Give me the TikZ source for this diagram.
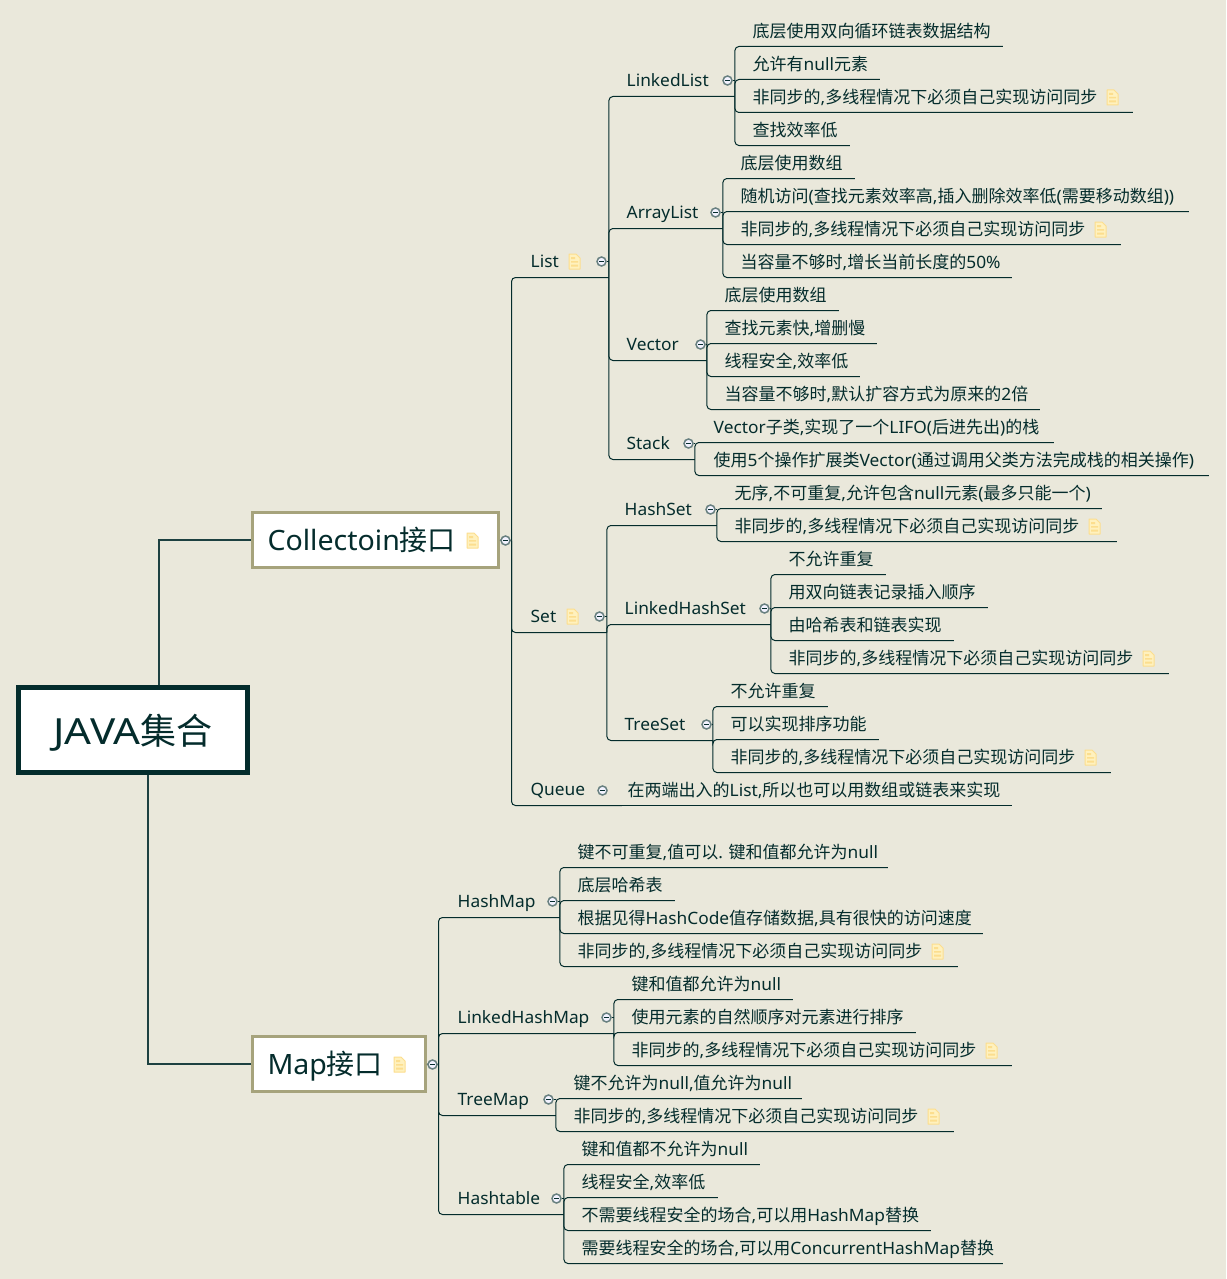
\documentclass[tikz,border=0pt]{standalone}
\usepackage{fontspec}
\setmainfont[FakeStretch=1.02]{Noto Sans}
\newfontfamily\cjk{Noto Sans CJK SC}
% han characters switch to the cjk font by themselves
\XeTeXinterchartokenstate=1
\chardef\hanclass=7
\count255="3000
\loop\ifnum\count255<"A000
  \XeTeXcharclass\count255=\hanclass
  \advance\count255 by 1
\repeat
\XeTeXinterchartoks 0 \hanclass={\cjk}
\XeTeXinterchartoks 4095 \hanclass={\cjk}
\XeTeXinterchartoks \hanclass 0={\normalfont}
\XeTeXinterchartoks \hanclass 4095={\normalfont}
\definecolor{canvas}{HTML}{EAE8DB}
\definecolor{ink}{HTML}{042C2C}
\definecolor{boxline}{HTML}{A6A37C}
\definecolor{noteline}{HTML}{FCDE8E}
\definecolor{notefill}{HTML}{FFF1BE}
\tikzset{
    link/.style={draw=ink, line width=1pt, rounded corners=4pt},
    mainlink/.style={draw=ink!90!white, line width=2.4pt},
    item/.style={anchor=south west, inner sep=0pt, text width=#1, align=left,
        text height=14pt, text depth=9pt, text=ink,
        font=\fontsize{17}{20}\selectfont\frenchspacing},
    branch/.style={item=#1, text depth=10pt},
    mainbox/.style={anchor=west, draw=boxline, fill=white, line width=3pt,
        inner xsep=15pt, inner ysep=0pt, text width=#1, align=left,
        text height=38pt, text depth=17pt, text=ink,
        font=\fontsize{28}{32}\selectfont},
    rootbox/.style={draw=ink, fill=white, line width=5pt, inner sep=0pt,
        minimum width=229pt, minimum height=85pt, text=ink,
        text height=33pt, text depth=4pt,
        font=\fontsize{36}{40}\selectfont\addfontfeature{FakeStretch=1.17}},
    fold/.style={circle, draw=ink!60!white, fill=blue!5!white, line width=1.5pt,
        inner sep=0pt, minimum size=9pt,
        path picture={\draw[ink, line width=.9pt]
            ([xshift=2pt]path picture bounding box.west) -- ([xshift=-2pt]path picture bounding box.east);}},
    notedoc/.pic={
        \draw[noteline, fill=notefill, line width=1pt, line join=round]
            (-5.5,-7.5) -- (1.5,-7.5) -- (5.5,-3.5) -- (5.5,7.5) -- (-5.5,7.5) -- cycle;
        \fill[noteline] (-3.5,-4.5) rectangle (0.5,-2.5) (-3.5,-.5) rectangle (3.5,1) (-3.5,3) rectangle (3.5,5);
    },
}
\begin{document}
\begin{tikzpicture}[x=1pt,y=-1pt]
\path[use as bounding box, fill=canvas] (0,0) rectangle (1226,1279);
\begin{scope}[shift={(-.5,.5)}]

\node[rootbox] (root) at (133.5,729.5) {JAVA集合};
\node[mainbox=216pt] (collectoin) at (251.5,539.5) {Collectoin接口};
\node[mainbox=143pt] (map) at (251.5,1063.5) {Map接口};
\coordinate (collectoinbus) at (512,540);
\coordinate (mapbus) at (439,1064);

% list
\node[branch=78pt] (list) at (531,277) {List};
\node[branch=108pt] (linkedlist) at (627,96) {LinkedList};
\node[branch=96pt] (arraylist) at (627,228) {ArrayList};
\node[branch=80pt] (vector) at (627,360) {Vector};
\node[branch=68pt] (stack) at (627,459) {Stack};
\node[item=250pt] (ll1) at (753,46) {底层使用双向循环链表数据结构};
\node[item=127pt] (ll2) at (753,79) {允许有null元素};
\node[item=380pt] (ll3) at (753,112) {非同步的,多线程情况下必须自己实现访问同步};
\node[item=97pt] (ll4) at (753,145) {查找效率低};
\node[item=114pt] (al1) at (741,178) {底层使用数组};
\node[item=448pt] (al2) at (741,211) {随机访问(查找元素效率高,插入删除效率低(需要移动数组))};
\node[item=380pt] (al3) at (741,244) {非同步的,多线程情况下必须自己实现访问同步};
\node[item=271pt] (al4) at (741,277) {当容量不够时,增长当前长度的50\%};
\node[item=114pt] (ve1) at (725,310) {底层使用数组};
\node[item=152pt] (ve2) at (725,343) {查找元素快,增删慢};
\node[item=135pt] (ve3) at (725,376) {线程安全,效率低};
\node[item=315pt] (ve4) at (725,409) {当容量不够时,默认扩容方式为原来的2倍};
\node[item=340pt] (st1) at (714,442) {Vector子类,实现了一个LIFO(后进先出)的栈};
\node[item=495pt] (st2) at (714,475) {使用5个操作扩展类Vector(通过调用父类方法完成栈的相关操作)};

% set
\node[branch=76pt] (set) at (531,632) {Set};
\node[branch=92pt] (hashset) at (625,525) {HashSet};
\node[branch=146pt] (linkedhashset) at (625,624) {LinkedHashSet};
\node[branch=88pt] (treeset) at (625,740) {TreeSet};
\node[item=367pt] (hs1) at (735,508) {无序,不可重复,允许包含null元素(最多只能一个)};
\node[item=382pt] (hs2) at (735,541) {非同步的,多线程情况下必须自己实现访问同步};
\node[item=97pt] (lh1) at (789,574) {不允许重复};
\node[item=199pt] (lh2) at (789,607) {用双向链表记录插入顺序};
\node[item=165pt] (lh3) at (789,640) {由哈希表和链表实现};
\node[item=380pt] (lh4) at (789,673) {非同步的,多线程情况下必须自己实现访问同步};
\node[item=97pt] (ts1) at (731,706) {不允许重复};
\node[item=148pt] (ts2) at (731,739) {可以实现排序功能};
\node[item=380pt] (ts3) at (731,772) {非同步的,多线程情况下必须自己实现访问同步};

% queue
\node[branch=91pt] (queue) at (531,805) {Queue};
\node[item=384pt] (qu1) at (628,805) {在两端出入的List,所以也可以用数组或链表来实现};

% map
\node[branch=102pt] (hashmap) at (458,917) {HashMap};
\node[branch=156pt] (linkedhashmap) at (458,1033) {LinkedHashMap};
\node[branch=98pt] (treemap) at (458,1115) {TreeMap};
\node[branch=106pt] (hashtable) at (458,1214) {Hashtable};
\node[item=310pt] (hm1) at (578,867) {键不可重复,值可以. 键和值都允许为null};
\node[item=97pt] (hm2) at (578,900) {底层哈希表};
\node[item=405pt] (hm3) at (578,933) {根据见得HashCode值存储数据,具有很快的访问速度};
\node[item=380pt] (hm4) at (578,966) {非同步的,多线程情况下必须自己实现访问同步};
\node[item=161pt] (lm1) at (632,999) {键和值都允许为null};
\node[item=284pt] (lm2) at (632,1032) {使用元素的自然顺序对元素进行排序};
\node[item=380pt] (lm3) at (632,1065) {非同步的,多线程情况下必须自己实现访问同步};
\node[item=228pt] (tm1) at (574,1098) {键不允许为null,值允许为null};
\node[item=380pt] (tm2) at (574,1131) {非同步的,多线程情况下必须自己实现访问同步};
\node[item=178pt] (ht1) at (582,1164) {键和值都不允许为null};
\node[item=136pt] (ht2) at (582,1197) {线程安全,效率低};
\node[item=349pt] (ht3) at (582,1230) {不需要线程安全的场合,可以用HashMap替换};
\node[item=421pt] (ht4) at (582,1263) {需要线程安全的场合,可以用ConcurrentHashMap替换};

% connectors
\draw[mainlink] ([xshift=26pt]root.north) |- (collectoin.west);
\draw[mainlink] ([xshift=15pt]root.south) |- (map.west);
\draw[link] (collectoin.east) -- (collectoinbus);
\draw[link] (map.east) -- (mapbus);
\foreach \n in {list,set,queue} \draw[link] (collectoinbus) |- (\n.south east);
\foreach \n in {hashmap,linkedhashmap,treemap,hashtable} \draw[link] (mapbus) |- (\n.south east);
\foreach \n in {linkedlist,arraylist,vector,stack} \draw[link] (list.south east) |- (\n.south east);
\foreach \n in {hashset,linkedhashset,treeset} \draw[link] (set.south east) |- (\n.south east);
\foreach \n in {ll1,ll2,ll3,ll4} \draw[link] (linkedlist.south east) |- (\n.south east);
\foreach \n in {al1,al2,al3,al4} \draw[link] (arraylist.south east) |- (\n.south east);
\foreach \n in {ve1,ve2,ve3,ve4} \draw[link] (vector.south east) |- (\n.south east);
\foreach \n in {st1,st2} \draw[link] (stack.south east) |- (\n.south east);
\foreach \n in {hs1,hs2} \draw[link] (hashset.south east) |- (\n.south east);
\foreach \n in {lh1,lh2,lh3,lh4} \draw[link] (linkedhashset.south east) |- (\n.south east);
\foreach \n in {ts1,ts2,ts3} \draw[link] (treeset.south east) |- (\n.south east);
\draw[link] (queue.south east) -- (qu1.south east);
\foreach \n in {hm1,hm2,hm3,hm4} \draw[link] (hashmap.south east) |- (\n.south east);
\foreach \n in {lm1,lm2,lm3} \draw[link] (linkedhashmap.south east) |- (\n.south east);
\foreach \n in {tm1,tm2} \draw[link] (treemap.south east) |- (\n.south east);
\foreach \n in {ht1,ht2,ht3,ht4} \draw[link] (hashtable.south east) |- (\n.south east);

% fold marks
\node[fold] (collectoinfold) at (506,540) {};
\node[fold] (mapfold) at (433,1064) {};
\node[fold] (queuefold) at (603,790) {};
\foreach \n/\x/\y in {list/602/261,set/600/616,linkedlist/728/80,arraylist/716/212,vector/701/344,stack/689/443,
    hashset/711/509,linkedhashset/765/608,treeset/707/724,hashmap/553/901,linkedhashmap/607/1017,treemap/549/1099,hashtable/557/1198}{
  \node[fold] (\n fold) at (\x,\y) {};
  \draw[link] (\n fold.east) -- (\n fold.east -| \n.south east);
}

% note marks
\foreach \x/\y in {473/540,400/1064,575/261,573/616,1113/97,1101/229,1095/526,1149/658,1091/757,938/951,992/1050,934/1116}
  \pic at (\x,\y) {notedoc};
\end{scope}
\end{tikzpicture}
\end{document}
